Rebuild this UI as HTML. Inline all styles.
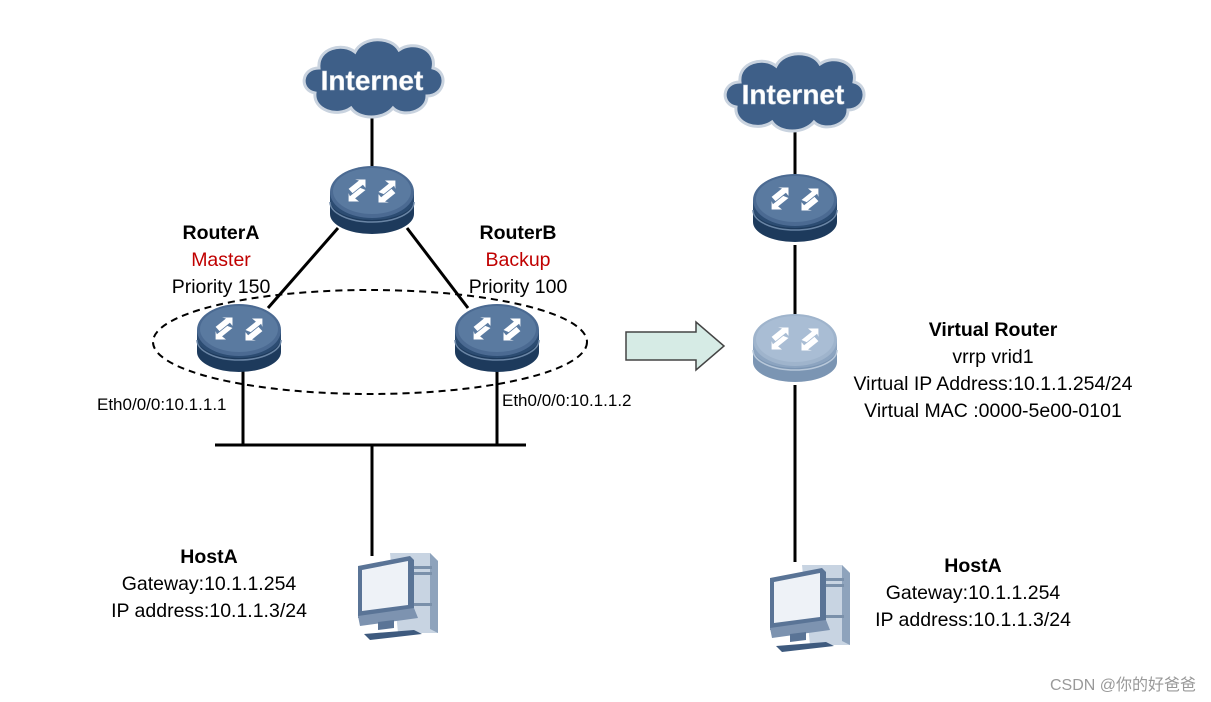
<!DOCTYPE html>
<html><head><meta charset="utf-8"><style>
body{margin:0;background:#fff;}
svg{display:block;font-family:"Liberation Sans","Noto Sans CJK SC",sans-serif;}
</style></head><body>
<svg width="1211" height="702" viewBox="0 0 1211 702" xmlns="http://www.w3.org/2000/svg">
<defs>
<g id="arrows" fill="#fff">
<path d="M-18,-2 l8,-8 l-3,-1 l8,0 l0,8 l-2,-3 l-8,8z"/>
<path d="M18,2 l-8,8 l3,1 l-8,0 l0,-8 l2,3 l8,-8z"/>
<path d="M18,-10 l-8,0 l3,3 l-8,8 l4,2 l8,-8 l1,3z" />
<path d="M-18,10 l8,0 l-3,-3 l8,-8 l-4,-2 l-8,8 l-1,-3z"/>
</g>
<g id="router">
<path d="M0,30 v22 a42,20 0 0 0 84,0 v-22z" fill="#1d3a5c"/>
<path d="M0,30 v8 a42,20 0 0 0 84,0 v-8z" fill="#2c4c72"/>
<path d="M0,40 a42,20 0 0 0 84,0" fill="none" stroke="#6a85a5" stroke-width="1.5"/>
<ellipse cx="42" cy="30" rx="42" ry="26" fill="#4b6a92"/>
<ellipse cx="42" cy="29" rx="39" ry="23" fill="#5a7aa0"/>
<use href="#arrows" transform="translate(42,29) scale(1.3,1.05)"/>
</g>
<g id="vrouter">
<path d="M0,30 v22 a42,20 0 0 0 84,0 v-22z" fill="#7b95b3"/>
<path d="M0,30 v8 a42,20 0 0 0 84,0 v-8z" fill="#8ca4c0"/>
<path d="M0,40 a42,20 0 0 0 84,0" fill="none" stroke="#b8c8da" stroke-width="1.5"/>
<ellipse cx="42" cy="30" rx="42" ry="26" fill="#9fb4cc"/>
<ellipse cx="42" cy="29" rx="39" ry="23" fill="#a9bdd4"/>
<use href="#arrows" transform="translate(42,29) scale(1.3,1.05)"/>
</g>
<g id="cloud">
<path d="M12,55 C-4,52 -2,30 16,30 C14,10 40,4 52,14 C60,-2 88,-2 96,12 C110,2 134,10 130,30 C146,34 142,58 124,58 C124,74 100,80 90,70 C80,82 56,82 48,70 C34,80 10,72 12,55z" fill="#3e5f88" stroke="#c9d3df" stroke-width="3"/>
</g>
<g id="host">
<path d="M40,5 l40,0 l8,8 l0,72 l-40,0z" fill="#c8d4e2"/>
<path d="M80,5 l8,8 l0,72 l-8,-4z" fill="#8ea3bc"/>
<rect x="62" y="18" width="20" height="3" fill="#7a90aa"/>
<rect x="62" y="24" width="20" height="3" fill="#7a90aa"/>
<rect x="62" y="55" width="20" height="3" fill="#7a90aa"/>
<path d="M8,18 l52,-10 l4,4 l0,50 l-56,8z" fill="#5a7496"/>
<path d="M12,22 l46,-9 l0,44 l-46,6z" fill="#eef2f7"/>
<path d="M8,68 l56,-8 l4,10 l-58,8z" fill="#7d93b0"/>
<path d="M28,74 l16,-2 l0,8 l-16,2z" fill="#5a7496"/>
<path d="M14,86 l50,-4 l8,4 l-52,6z" fill="#3e5a7e"/>
</g>
</defs>

<g stroke="#000" stroke-width="3" fill="none">
<line x1="372" y1="115" x2="372" y2="168"/>
<line x1="268" y1="308" x2="338" y2="228"/>
<line x1="468" y1="308" x2="407" y2="228"/>
<line x1="243" y1="370" x2="243" y2="445"/>
<line x1="497" y1="370" x2="497" y2="445"/>
<line x1="215" y1="445" x2="526" y2="445"/>
<line x1="372" y1="445" x2="372" y2="556"/>
<line x1="795" y1="120" x2="795" y2="175"/>
<line x1="795" y1="245" x2="795" y2="315"/>
<line x1="795" y1="385" x2="795" y2="562"/>
</g>

<use href="#cloud" x="303" y="38"/>
<text x="372" y="90" font-size="28" font-weight="bold" fill="#fff" text-anchor="middle" stroke="#c9d3df" stroke-width="0.5">Internet</text>
<use href="#cloud" x="724" y="52"/>
<text x="793" y="104" font-size="28" font-weight="bold" fill="#fff" text-anchor="middle" stroke="#c9d3df" stroke-width="0.5">Internet</text>

<use href="#router" x="330" y="162"/>
<use href="#router" x="197" y="300"/>
<use href="#router" x="455" y="300"/>
<use href="#router" x="753" y="170"/>
<use href="#vrouter" x="753" y="310"/>

<ellipse cx="370" cy="342" rx="217" ry="52" fill="none" stroke="#000" stroke-width="2" stroke-dasharray="7,5"/>

<path d="M626,332 h70 v-10 l28,24 l-28,24 v-10 h-70z" fill="#d6ebe5" stroke="#444" stroke-width="1.5"/>

<use href="#host" x="350" y="548"/>
<use href="#host" x="762" y="560"/>

<g font-size="19.5" fill="#000" text-anchor="middle">
<text x="221" y="239" font-weight="bold">RouterA</text>
<text x="221" y="266" fill="#c00000">Master</text>
<text x="221" y="293">Priority 150</text>
<text x="518" y="239" font-weight="bold">RouterB</text>
<text x="518" y="266" fill="#c00000">Backup</text>
<text x="518" y="293">Priority 100</text>
<text x="209" y="563" font-weight="bold">HostA</text>
<text x="209" y="590">Gateway:10.1.1.254</text>
<text x="209" y="617">IP address:10.1.1.3/24</text>
<text x="993" y="336" font-weight="bold">Virtual Router</text>
<text x="993" y="363">vrrp vrid1</text>
<text x="993" y="390">Virtual IP Address:10.1.1.254/24</text>
<text x="993" y="417">Virtual MAC :0000-5e00-0101</text>
<text x="973" y="572" font-weight="bold">HostA</text>
<text x="973" y="599">Gateway:10.1.1.254</text>
<text x="973" y="626">IP address:10.1.1.3/24</text>
</g>
<g font-size="17" fill="#000">
<text x="97" y="410">Eth0/0/0:10.1.1.1</text>
<text x="502" y="406">Eth0/0/0:10.1.1.2</text>
</g>
<text x="1196" y="690" font-size="16" fill="#999" text-anchor="end">CSDN @你的好爸爸</text>
</svg>
</body></html>
